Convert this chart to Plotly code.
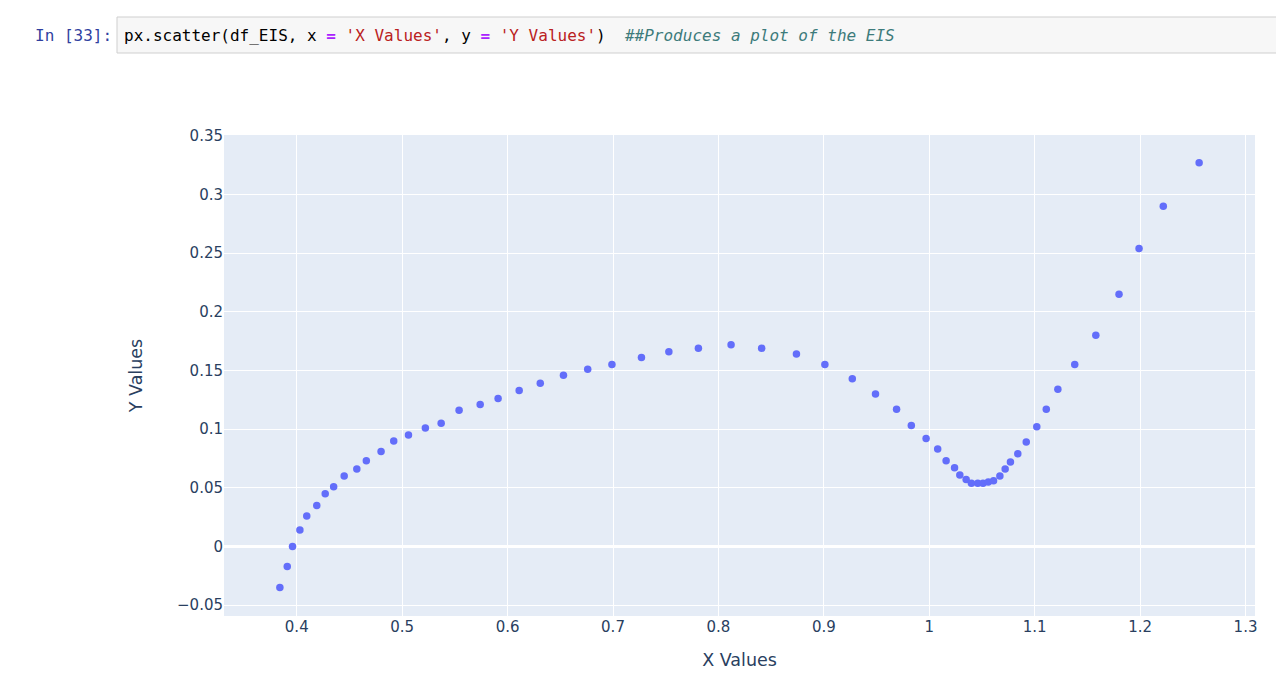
import plotly.graph_objects as go

x_values = [0.384, 0.391, 0.396, 0.403, 0.4095, 0.419, 0.427, 0.435, 0.445, 0.457,
            0.466, 0.480, 0.492, 0.506, 0.522, 0.537, 0.554, 0.574, 0.591, 0.611,
            0.631, 0.653, 0.676, 0.699, 0.727, 0.753, 0.781, 0.812, 0.841, 0.874,
            0.901, 0.927, 0.949, 0.969, 0.983, 0.997, 1.008, 1.016, 1.024, 1.029,
            1.035, 1.040, 1.046, 1.051, 1.056, 1.061, 1.067, 1.072, 1.077, 1.084,
            1.092, 1.102, 1.111, 1.122, 1.138, 1.158, 1.180, 1.199, 1.222, 1.256]
y_values = [-0.035, -0.017, 0.000, 0.014, 0.026, 0.035, 0.045, 0.051, 0.060, 0.066,
            0.073, 0.081, 0.090, 0.095, 0.101, 0.105, 0.116, 0.121, 0.126, 0.133,
            0.139, 0.146, 0.151, 0.155, 0.161, 0.166, 0.169, 0.172, 0.169, 0.164,
            0.155, 0.143, 0.130, 0.117, 0.103, 0.092, 0.083, 0.073, 0.067, 0.061,
            0.057, 0.054, 0.054, 0.054, 0.055, 0.056, 0.060, 0.066, 0.072, 0.079,
            0.089, 0.102, 0.117, 0.134, 0.155, 0.180, 0.215, 0.254, 0.290, 0.327]

x_title = "X Values"
y_title = "Y Values"
prompt_text = "In [33]:"

OFF = 8  # page body margin
W, H = 1284 - OFF, 675 - OFF
L, R, T, B = 224 - OFF, 1255 - OFF, 135 - OFF, 616 - OFF

def px_x(p):
    return (p - OFF - L) / (R - L)

def px_y(p):
    return (B - (p - OFF)) / (B - T)

fig = go.Figure()
fig.add_trace(go.Scatter(
    x=x_values, y=y_values, mode="markers",
    marker=dict(color="#636efa", size=7.5),
    hovertemplate="X Values=%{x}<br>Y Values=%{y}<extra></extra>",
))

nb = "\u00a0"
def s(t):
    return t.replace(" ", nb)

code_html = (
    s("px.scatter(df_EIS, x ")
    + "<span style='color:#AA22FF'><b>=</b></span>"
    + s(" ")
    + "<span style='color:#BA2121'>" + s("'X Values'") + "</span>"
    + s(", y ")
    + "<span style='color:#AA22FF'><b>=</b></span>"
    + s(" ")
    + "<span style='color:#BA2121'>" + s("'Y Values'") + "</span>"
    + s(")  ")
    + "<span style='color:#3D7B7B'><i>" + s("##Produces a plot of the EIS") + "</i></span>"
)

fig.update_layout(
    width=W, height=H,
    margin=dict(l=L, r=W - R, t=T, b=H - B, autoexpand=False),
    paper_bgcolor="white",
    plot_bgcolor="#E5ECF6",
    font=dict(family="DejaVu Sans", size=15, color="#2a3f5f"),
    showlegend=False,
    xaxis=dict(
        title=dict(text=x_title, font=dict(size=17.5), standoff=18),
        range=[0.331, 1.309], dtick=0.1, tick0=0.4,
        gridcolor="white", gridwidth=1.25, zeroline=True, zerolinecolor="white",
        zerolinewidth=2.5, showline=False, ticks="", automargin=False,
    ),
    yaxis=dict(
        title=dict(text=y_title, font=dict(size=17.5), standoff=29),
        range=[-0.0592, 0.3506], dtick=0.05, tick0=0,
        gridcolor="white", gridwidth=1.25, zeroline=True, zerolinecolor="white",
        zerolinewidth=2.5, showline=False, ticks="", automargin=False,
    ),
    shapes=[dict(
        type="rect", xref="paper", yref="paper",
        x0=px_x(117), x1=px_x(1292), y0=px_y(53), y1=px_y(17),
        fillcolor="#f7f7f7", line=dict(color="#cfcfcf", width=1), layer="below",
    )],
    annotations=[
        dict(text=prompt_text, xref="paper", yref="paper", x=px_x(33), y=px_y(35),
             xanchor="left", yanchor="middle", showarrow=False,
             font=dict(family="DejaVu Sans Mono", size=16, color="#303F9F")),
        dict(text=code_html, xref="paper", yref="paper", x=px_x(122), y=px_y(35),
             xanchor="left", yanchor="middle", showarrow=False,
             font=dict(family="DejaVu Sans Mono", size=16, color="#000000")),
    ],
)

fig.write_html("out.html")
